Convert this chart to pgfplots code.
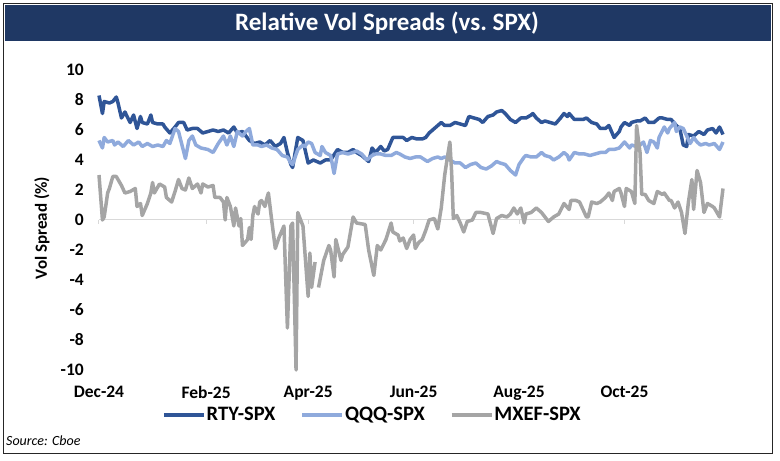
\documentclass[border=0pt]{standalone}
\usepackage{fontspec}
\setmainfont{Carlito}
\usepackage{pgfplots}
\pgfplotsset{compat=1.18}

\definecolor{titlebar}{HTML}{1F3864}
\definecolor{rty}{HTML}{2F5597}
\definecolor{qqq}{HTML}{8FAADC}
\definecolor{mxef}{HTML}{A5A5A5}
\definecolor{zeroline}{HTML}{D9D9D9}

\begin{document}
\begin{tikzpicture}[x=1pt,y=1pt]
% x axis: calendar days since 1 Dec 2024
\begin{axis}[
  at={(0,0)}, anchor=south west,
  scale only axis, width=624pt, height=300pt,
  xmin=0, xmax=361, ymin=-10, ymax=10,
  clip=false,
  axis line style={draw=none},
  tick style={draw=none},
  /pgf/number format/assume math mode=true,
  xtick={0,62,121,182,243,304},
  xticklabels={Dec-24,Feb-25,Apr-25,Jun-25,Aug-25,Oct-25},
  ytick={-10,-8,-6,-4,-2,0,2,4,6,8,10},
  yticklabels={-10,-8,-6,-4,-2,0,2,4,6,8,10},
  ticklabel style={font=\fontsize{17.5}{20}\selectfont\bfseries},
  yticklabel style={inner sep=0pt, xshift=-15pt},
  xticklabel style={inner sep=0pt, yshift=-16pt},
  unbounded coords=jump,
  legend columns=3,
  legend style={draw=none, fill=none, at={(axis description cs:0.4375,-0.15)}, anchor=center,
    font=\fontsize{20.5}{24}\selectfont\bfseries,
    nodes={inner sep=1pt},
    /tikz/every even column/.append style={column sep=24pt}},
  legend image code/.code={\draw[#1] (0pt,0pt) -- (40pt,0pt);},
]
% zero line with its tick marks
\addplot[zeroline, line width=1pt, forget plot] coordinates {(0,0) (361,0)};
\addplot[zeroline, line width=1pt, ycomb, forget plot] coordinates {(0,-0.3) (62,-0.3) (121,-0.3) (182,-0.3) (243,-0.3) (304,-0.3)};

\addplot[rty, line width=3.5pt, line join=round] coordinates {
(0,8.3) (2,7.1) (3,7.9) (6,7.8) (8,7.9) (10,8.2) (11,7.8) (13,6.8) (15,7.2) (18,6.5)
(20,7.0) (22,6.1) (24,6.9) (25,6.5) (28,6.4) (30,7.0) (31,6.5) (34,6.4) (37,6.4) (38,6.2)
(41,5.8) (44,6.2) (46,6.5) (49,6.5) (51,6.0) (54,6.1) (57,6.1) (60,5.8) (63,5.9) (66,6.0)
(69,5.9) (72,6.0) (75,5.8) (78,6.2) (80,5.8) (83,5.9) (85,5.6) (87,5.3) (90,5.1) (93,5.2)
(96,5.0) (99,5.3) (102,4.9) (105,5.1) (107,5.5) (109,4.5) (111,3.7) (112,3.5) (115,5.5) (118,5.3)
(119,4.8) (121,3.8) (124,4.0) (126,3.9) (128,3.8) (131,4.0) (134,4.0) (138,4.7) (141,4.5) (144,4.5)
(147,4.7) (149,4.5) (152,4.3) (156,3.9) (158,4.8) (160,4.5) (163,4.9) (165,4.6) (167,4.7) (170,5.5)
(173,5.5) (176,5.5) (178,5.3) (181,5.5) (184,5.4) (187,5.4) (189,5.5) (191,5.8) (194,6.1) (196,6.3)
(198,6.5) (200,6.3) (203,6.3) (206,6.5) (209,6.4) (212,6.3) (214,6.9) (217,6.8) (220,6.7) (222,6.5)
(225,6.9) (228,7.0) (230,7.2) (233,7.3) (235,7.1) (238,6.7) (241,6.5) (244,6.8) (247,6.8) (250,7.0)
(251,7.1) (253,6.8) (256,6.5) (258,6.6) (261,6.5) (264,6.4) (267,6.8) (269,7.1) (271,6.9) (272,7.1)
(275,6.7) (278,6.7) (280,6.7) (282,6.8) (285,6.5) (288,6.4) (290,6.1) (293,6.1) (295,6.3) (298,5.5)
(301,5.9) (302,6.2) (304,6.5) (307,6.3) (308,6.5) (311,6.6) (313,6.6) (316,6.8) (318,6.5) (321,6.5)
(324,6.8) (326,6.8) (329,6.7) (331,6.7) (334,6.3) (336,6.1) (338,5.0) (340,4.9) (341,5.7) (344,5.6)
(347,5.9) (350,5.7) (352,6.0) (355,6.1) (357,5.8) (359,6.2) (361,5.7)
};
\addlegendentry{RTY-SPX}

\addplot[qqq, line width=3.5pt, line join=round] coordinates {
(0,5.3) (2,4.8) (3,5.5) (5,5.2) (8,5.3) (9,5.0) (11,5.2) (14,4.9) (17,5.3) (20,5.0)
(23,5.2) (25,4.9) (28,5.1) (31,4.9) (34,5.0) (37,4.9) (39,5.3) (41,5.1) (44,6.1) (46,5.9)
(48,5.0) (50,4.1) (52,5.3) (54,5.6) (56,5.0) (59,4.8) (63,4.7) (66,4.5) (69,5.1) (72,5.6)
(74,5.0) (76,5.6) (78,4.9) (80,5.9) (83,5.6) (85,5.9) (87,6.1) (89,5.0) (92,5.0) (94,4.9)
(97,5.0) (100,4.8) (103,4.7) (106,4.3) (109,4.2) (111,3.8) (112,3.7) (115,4.7) (118,5.0) (119,4.9)
(121,5.2) (123,5.1) (125,4.5) (128,4.3) (129,4.9) (131,4.5) (134,4.3) (136,3.1) (138,4.4) (141,4.5)
(144,4.4) (147,4.5) (149,4.6) (152,4.4) (155,4.0) (158,4.3) (160,4.4) (163,4.4) (166,4.3) (169,4.3)
(172,4.5) (174,4.4) (177,4.2) (180,4.1) (183,4.2) (186,4.2) (190,3.9) (193,4.1) (196,4.2) (198,4.1)
(200,4.2) (203,4.0) (206,3.8) (209,3.8) (212,3.5) (215,3.7) (218,3.8) (221,3.5) (224,3.4) (227,3.6)
(230,3.9) (232,3.8) (235,3.7) (238,3.3) (241,3.0) (243,3.7) (246,4.2) (247,4.3) (250,4.2) (253,4.2)
(256,4.5) (258,4.3) (261,4.2) (263,4.0) (266,4.2) (269,4.5) (271,4.3) (272,4.0) (275,4.5) (278,4.4)
(281,4.4) (284,4.3) (287,4.4) (290,4.5) (293,4.5) (295,4.7) (298,4.7) (301,4.8) (304,5.2) (307,4.8)
(308,5.0) (311,4.9) (313,5.0) (315,5.2) (317,4.5) (319,5.3) (321,5.2) (323,4.8) (324,5.5) (327,6.2)
(329,5.8) (330,6.1) (333,6.5) (334,5.9) (336,6.2) (338,6.1) (340,5.6) (342,5.1) (344,5.5) (346,5.2)
(348,5.0) (351,5.1) (353,5.0) (356,5.1) (359,4.7) (361,5.2)
};
\addlegendentry{QQQ-SPX}

\addplot[mxef, line width=3.5pt, line join=round] coordinates {
(0,3.0) (2,0.0) (3,0.2) (5,1.8) (6,2.1) (8,2.9) (10,2.9) (13,2.3) (15,1.8) (18,1.9)
(21,2.1) (22,0.9) (24,1.1) (25,0.3) (28,1.1) (30,1.8) (31,2.5) (32,1.8) (35,2.4) (38,2.2)
(39,1.5) (42,1.2) (44,1.9) (46,2.7) (48,2.1) (50,2.0) (52,2.8) (54,2.1) (57,2.4) (59,1.8)
(60,2.4) (63,2.2) (66,2.3) (67,1.5) (70,1.5) (72,1.2) (73,0.0) (74,1.5) (76,0.9) (78,-0.4)
(79,0.8) (81,-0.4) (82,0.1) (83,-1.7) (86,-1.3) (87,-0.5) (88,-1.3) (89,0.3) (90,0.9) (92,0.4)
(93,1.2) (94,1.3) (96,0.9) (97,1.4) (98,1.8) (100,-0.1) (102,-1.9) (104,-1.2) (107,-0.4) (109,-7.2)
(111,-0.4) (112,-0.2) (114,-10.0) (115,0.5) (118,-0.4) (121,-5.1) (122,-2.2) (123,-4.5) (125,-2.8) (126,nan)
(127,-4.5) (130,-2.7) (133,-1.7) (134,-2.0) (136,-3.8) (137,-1.3) (140,-2.7) (141,-2.3) (144,-1.8) (147,0.2)
(149,-0.2) (154,-0.3) (156,-2.0) (159,-3.7) (161,-1.7) (163,-2.0) (166,-1.3) (169,-0.2) (170,-0.8) (173,-1.0)
(174,-1.4) (176,-1.2) (178,-1.9) (180,-1.3) (182,-1.0) (183,-1.9) (185,-1.5) (187,-1.3) (189,-0.7) (191,0.0)
(194,0.1) (196,-0.6) (198,0.8) (200,3.0) (202,4.5) (203,5.2) (204,3.2) (205,0.1) (207,0.3) (209,-0.2)
(211,-0.8) (213,-0.1) (216,0.0) (218,0.5) (221,0.5) (225,0.4) (228,-0.9) (230,0.1) (233,0.3) (236,0.2)
(238,0.4) (240,0.8) (242,0.4) (244,0.8) (246,-0.2) (247,0.4) (250,0.5) (253,0.8) (256,0.5) (258,0.2)
(260,-0.1) (263,0.2) (266,0.4) (269,1.1) (272,0.7) (273,1.3) (276,1.3) (278,1.2) (280,0.7) (282,0.2)
(283,0.2) (285,1.2) (288,1.1) (290,1.2) (293,1.5) (295,1.8) (297,1.3) (298,1.9) (301,2.1) (302,1.8)
(304,0.9) (305,2.1) (308,1.9) (310,1.1) (311,6.3) (313,4.5) (314,1.7) (316,1.7) (318,1.3) (321,1.1)
(323,1.9) (326,1.7) (327,1.8) (330,1.3) (331,1.3) (333,0.8) (335,1.2) (337,0.5) (339,-0.9) (341,1.2)
(343,2.7) (344,0.7) (346,3.3) (348,2.5) (350,0.5) (352,1.1) (355,0.9) (356,0.8) (359,0.2) (361,2.1)
};
\addlegendentry{MXEF-SPX}
\end{axis}

% frame and title bar
\draw[black!85, line width=1pt] (-95,-83) rectangle (673,366);
\fill[titlebar] (-94,329) rectangle (672,365);
\node[text=white, font=\fontsize{25}{28}\selectfont\bfseries] at (288,347) {Relative Vol Spreads (vs.\ SPX)};

% axis title and source note
\node[rotate=90, font=\fontsize{17}{20}\selectfont\bfseries] at (-57,142) {Vol Spread (\%)};
\node[anchor=west, inner sep=0pt, font=\fontsize{14}{16}\selectfont\itshape] at (-93,-71) {Source: Cboe};

\pgfresetboundingbox
\path[use as bounding box] (-99,-91) rectangle (681,370);
\end{tikzpicture}
\end{document}
